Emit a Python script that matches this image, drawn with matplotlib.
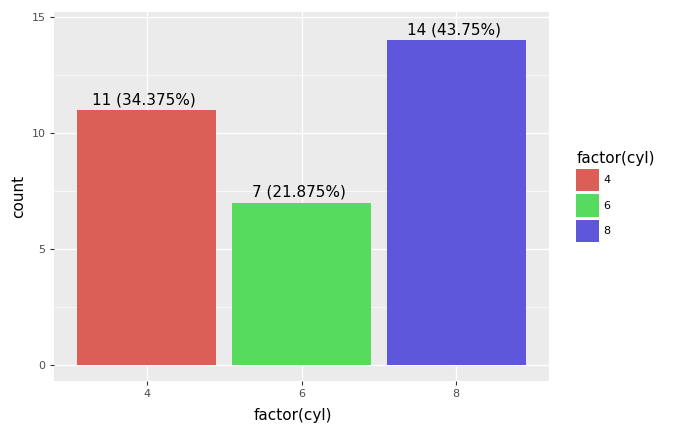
import matplotlib
matplotlib.use("Agg")
import matplotlib.pyplot as plt
from matplotlib.patches import Patch

# data
cyl = ["4", "6", "8"]
counts = [11, 7, 14]
labels = ["11 (34.375%)", "7 (21.875%)", "14 (43.75%)"]
colors = ["#db5f57", "#57db5f", "#5f57db"]

fig = plt.figure(figsize=(6.82, 4.33), dpi=100)
ax = fig.add_axes([0.0792, 0.120, 0.726, 0.852])
ax.set_facecolor("#ebebeb")

x = list(range(len(cyl)))
ax.bar(x, counts, width=0.9, color=colors, zorder=3)
for xi, c, lab in zip(x, counts, labels):
    ax.annotate(lab, (xi, c), xytext=(-2, 2), textcoords="offset points",
                ha="center", va="bottom", fontsize=11, color="black", zorder=4)

ax.set_xlim(-0.6, 2.6)
ax.set_ylim(-0.69, 15.22)
ax.set_xticks(x)
ax.set_xticklabels(cyl)
ax.set_yticks([0, 5, 10, 15])
ax.set_yticks([2.5, 7.5, 12.5], minor=True)

ax.grid(True, which="major", color="white", linewidth=1.0, zorder=0)
ax.grid(True, which="minor", axis="y", color="white", linewidth=0.5, zorder=0)
ax.set_axisbelow(True)
for s in ax.spines.values():
    s.set_visible(False)
ax.tick_params(axis="both", which="major", length=3, color="#333333",
               labelcolor="#4d4d4d", labelsize=8, pad=3)
ax.tick_params(axis="y", which="minor", length=0)

ax.set_xlabel("factor(cyl)", fontsize=11)
ax.xaxis.set_label_coords(0.483, -0.072)
ax.set_ylabel("count", fontsize=11)

handles = [Patch(facecolor=c, edgecolor="none", label=l) for c, l in zip(colors, cyl)]
leg = fig.legend(handles=handles, title="factor(cyl)", loc="center left",
                 bbox_to_anchor=(0.845, 0.546), frameon=False, fontsize=8,
                 title_fontsize=11, handlelength=2.0, handleheight=2.75,
                 handletextpad=0.4, labelspacing=0.25, borderaxespad=0,
                 borderpad=0)
leg._legend_box.align = "left"

fig.savefig("out.png", dpi=100)
